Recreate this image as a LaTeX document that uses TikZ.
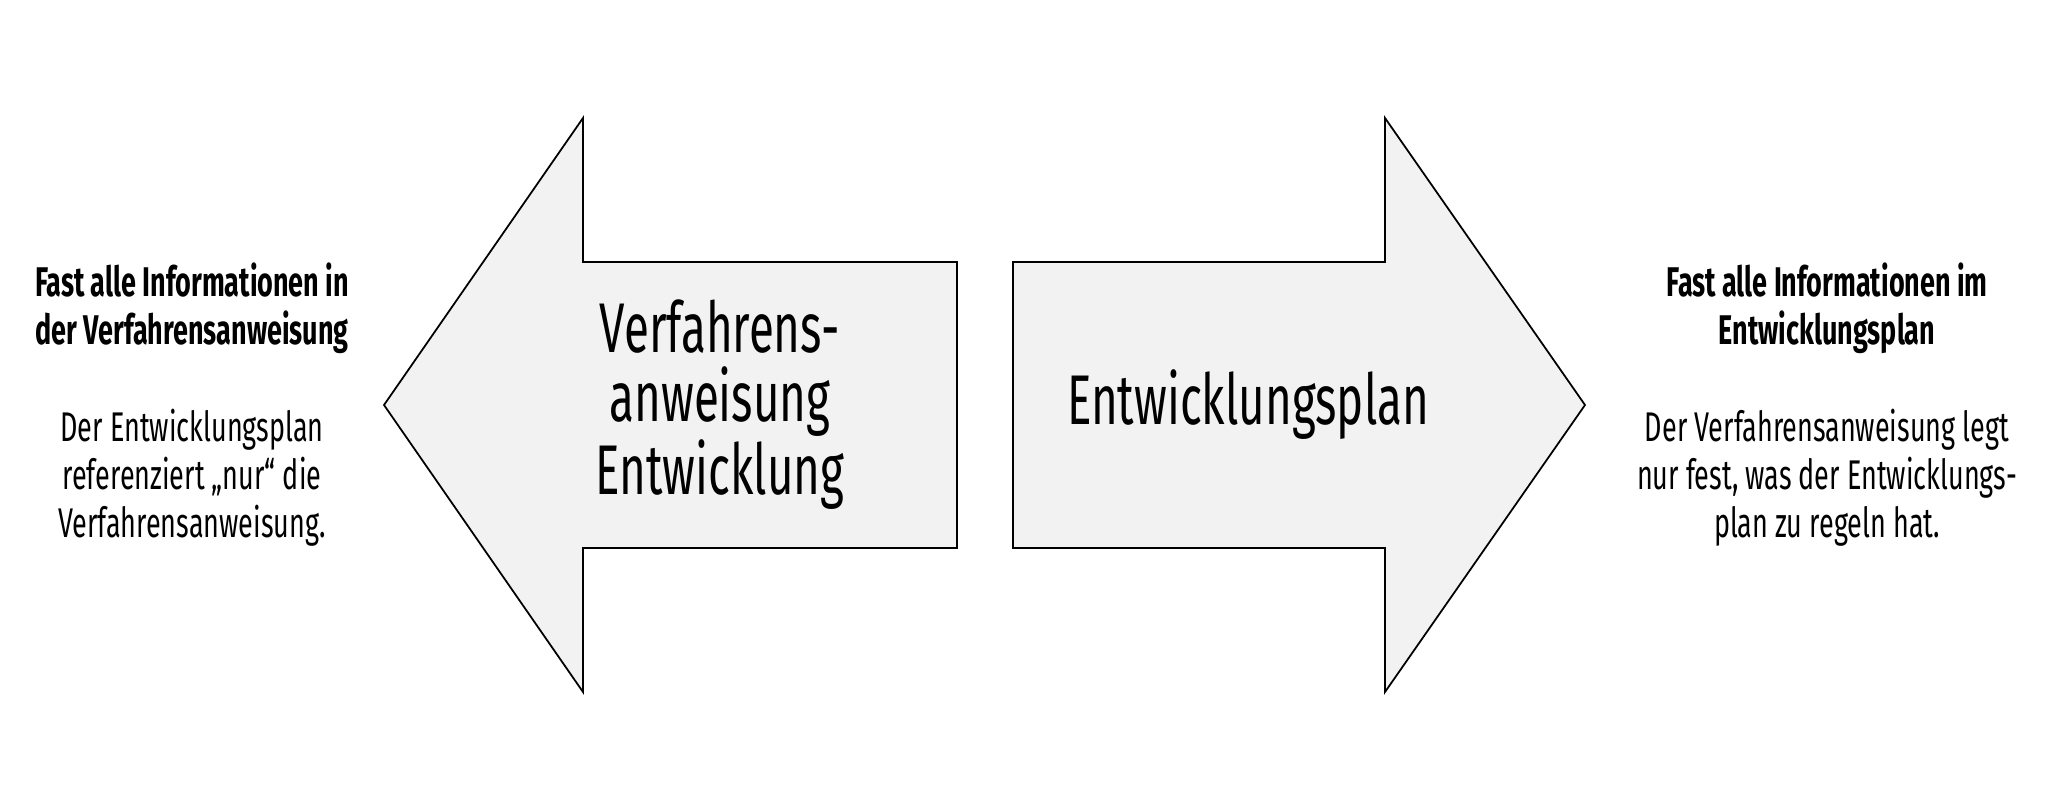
\documentclass[tikz,border=0pt]{standalone}
\usepackage{fontspec}
\setmainfont{Fira Sans}[FakeStretch=0.65]
\begin{document}
\begin{tikzpicture}[x=0.01cm,y=0.01cm,
  pfeil/.style={draw=black,line width=0.5pt,fill=black!5,line join=miter},
  gross/.style={font=\fontsize{20}{19.5}\selectfont,align=center},
  klein/.style={font=\fontsize{11.8}{13.7}\selectfont,align=center},
  kleinfett/.style={font=\fontsize{11.8}{13.7}\selectfont\bfseries,align=center}]
\useasboundingbox (0,0) rectangle (2048,811);
% linker Pfeil
\draw[pfeil] (384,406) -- (583,693) -- (583,549) -- (957,549) -- (957,263) -- (583,263) -- (583,119) -- cycle;
% rechter Pfeil
\draw[pfeil] (1585,406) -- (1385,693) -- (1385,549) -- (1013,549) -- (1013,263) -- (1385,263) -- (1385,119) -- cycle;
\node[gross] (va) at (720,406) {Verfahrens-\\anweisung\\Entwicklung};
\node[gross] (ep) at (1248,406) {Entwicklungsplan};
% Texte links und rechts
\node[kleinfett] (lkopf) at (192,503) {Fast alle Informationen in\\der Verfahrensanweisung};
\node[klein] (ltext) at (192,333) {Der Entwicklungsplan\\referenziert „nur“ die\\Verfahrensanweisung.};
\node[kleinfett] (rkopf) at (1827,503) {Fast alle Informationen im\\Entwicklungsplan};
\node[klein] (rtext) at (1827,333) {Der Verfahrensanweisung legt\\nur fest, was der Entwicklungs-\\plan zu regeln hat.};

\end{tikzpicture}
\end{document}
